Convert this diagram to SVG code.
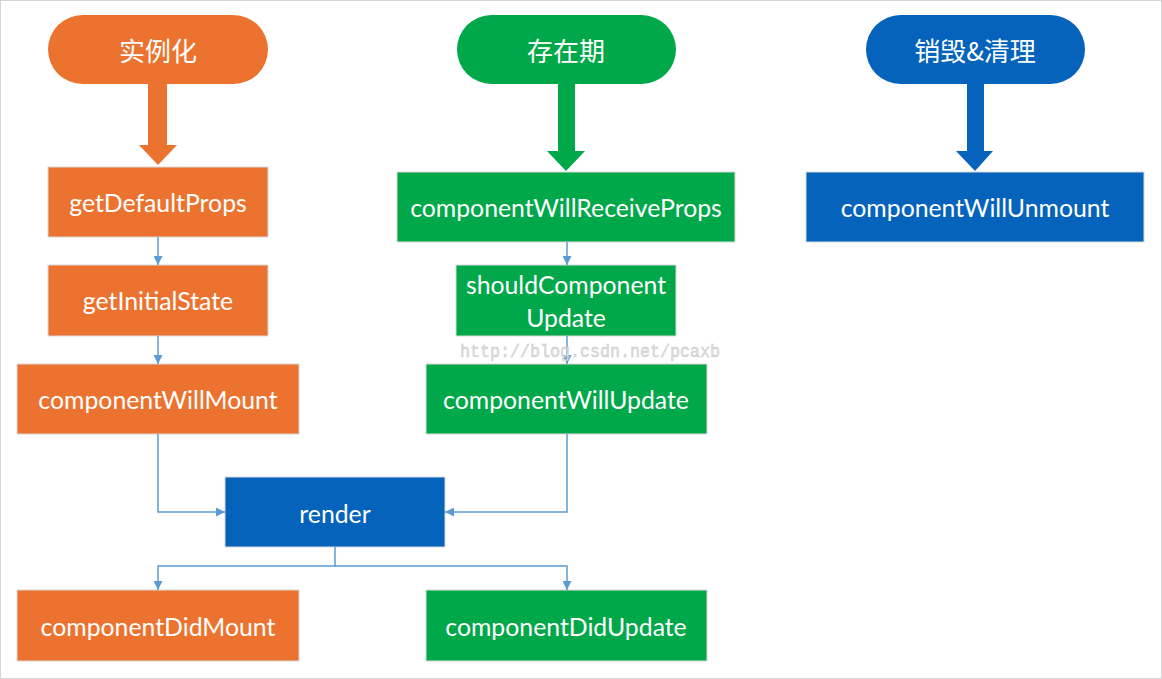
<svg xmlns="http://www.w3.org/2000/svg" width="1162" height="679" viewBox="0 0 1162 679">
<defs>
<style>
.o{fill:#EC732F}.g{fill:#00A84A}.b{fill:#0563BB}
.t{font-family:Lato,"Open Sans","Noto Sans CJK SC",sans-serif;font-size:24.8px;fill:#fff;text-anchor:middle;dominant-baseline:central}
.c{font-family:"Noto Sans CJK SC",sans-serif;font-size:26px;fill:#fff;text-anchor:middle;dominant-baseline:central}
.ln{fill:none;stroke:#5B9BD5;stroke-width:1.5}
.box{stroke:#d9d9d9;stroke-width:1}
</style>
<marker id="ah" viewBox="0 0 10 10" refX="10" refY="5" markerWidth="9" markerHeight="9" markerUnits="userSpaceOnUse" orient="auto">
<path d="M0,0 L10,5 L0,10 z" fill="#5B9BD5"/>
</marker>
</defs>
<rect x="0.5" y="0.5" width="1161" height="678" fill="#fff" stroke="#d6d6d6"/>

<g id="n-inst"><rect class="o" x="48" y="15" width="220" height="69" rx="34.5"/><text class="c" x="158" y="49">实例化</text></g>
<g id="n-exist"><rect class="g" x="457" y="15" width="219" height="69" rx="34.5"/><text class="c" x="566" y="49">存在期</text></g>
<g id="n-destroy"><rect class="b" x="866" y="15" width="219" height="69" rx="34.5"/><text class="c" x="975" y="49">销毁&amp;清理</text></g>

<g id="big-arrows">
<path class="o" d="M148,84 H167 V145 H177 L158,165 L139,145 H148 Z"/>
<path class="g" d="M558,84 H575 V151 H585 L566,171 L547,151 H558 Z"/>
<path class="b" d="M967,84 H984 V151 H993 L975,171 L956,151 H967 Z"/>
</g>

<g id="n-getDefaultProps"><rect class="o box" x="48" y="167" width="220" height="70"/><text class="t" x="158" y="202">getDefaultProps</text></g>
<g id="n-getInitialState"><rect class="o box" x="48" y="265" width="220" height="71"/><text class="t" x="158" y="300">getInitialState</text></g>
<g id="n-componentWillMount"><rect class="o box" x="17" y="364" width="282" height="70"/><text class="t" x="158" y="399">componentWillMount</text></g>
<g id="n-componentWillReceiveProps"><rect class="g box" x="397" y="172" width="338" height="70"/><text class="t" x="566" y="207">componentWillReceiveProps</text></g>
<g id="n-shouldComponentUpdate"><rect class="g box" x="456" y="265" width="220" height="71"/><text class="t" x="566" y="284">shouldComponent</text><text class="t" x="566" y="317">Update</text></g>
<g id="n-componentWillUpdate"><rect class="g box" x="426" y="364" width="281" height="70"/><text class="t" x="566" y="399">componentWillUpdate</text></g>
<g id="n-componentWillUnmount"><rect class="b box" x="806" y="172" width="338" height="70"/><text class="t" x="975" y="207">componentWillUnmount</text></g>
<g id="n-render"><rect class="b box" x="225" y="477" width="220" height="70"/><text class="t" x="335" y="513">render</text></g>
<g id="n-componentDidMount"><rect class="o box" x="17" y="590" width="282" height="71"/><text class="t" x="158" y="626">componentDidMount</text></g>
<g id="n-componentDidUpdate"><rect class="g box" x="426" y="590" width="281" height="71"/><text class="t" x="566" y="626">componentDidUpdate</text></g>

<g id="connectors">
<path class="ln" d="M158,237 V265" marker-end="url(#ah)"/>
<path class="ln" d="M158,336 V364" marker-end="url(#ah)"/>
<path class="ln" d="M567,242 V265" marker-end="url(#ah)"/>
<path class="ln" d="M567,336 V364" marker-end="url(#ah)"/>
<path class="ln" d="M158,434 V512 H225" marker-end="url(#ah)"/>
<path class="ln" d="M567,434 V512 H445" marker-end="url(#ah)"/>
<path class="ln" d="M335,547 V566 H158 V590" marker-end="url(#ah)"/>
<path class="ln" d="M335,566 H567 V590" marker-end="url(#ah)"/>
</g>

<text x="460" y="357" font-family="Liberation Mono,monospace" font-size="18" textLength="260" lengthAdjust="spacingAndGlyphs" fill="#e0e0e0" stroke="#c4c4c4" stroke-width="0.4">http://blog.csdn.net/pcaxb</text>
</svg>
